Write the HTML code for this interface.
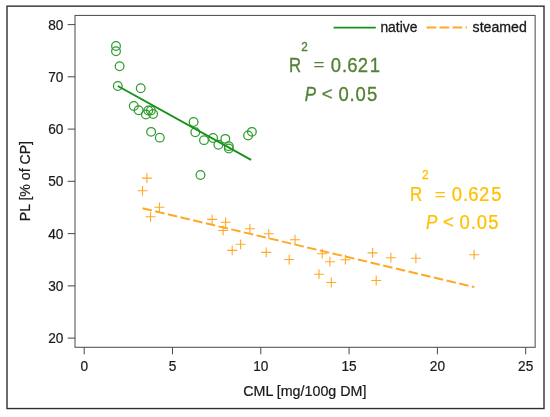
<!DOCTYPE html>
<html lang="en">
<head>
<meta charset="utf-8">
<title>PL vs CML</title>
<style>
html,body{margin:0;padding:0;background:#fff;}
body{width:550px;height:417px;overflow:hidden;}
svg{display:block;}
text{font-family:"Liberation Sans",Arial,Helvetica,sans-serif;}
</style>
</head>
<body>
<svg width="550" height="417" viewBox="0 0 550 417">
<rect x="0" y="0" width="550" height="417" fill="#ffffff"/>
<rect x="7.0" y="6.15" width="537.0" height="402.40000000000003" fill="none" stroke="#303030" stroke-width="1.4"/>
<rect x="75.0" y="15.45" width="460.15" height="331.85" fill="none" stroke="#585858" stroke-width="1.1"/>
<g stroke="#484848" stroke-width="1" fill="none">
<line x1="67.7" y1="338.1" x2="75.0" y2="338.1"/>
<line x1="67.7" y1="285.9" x2="75.0" y2="285.9"/>
<line x1="67.7" y1="233.6" x2="75.0" y2="233.6"/>
<line x1="67.7" y1="181.3" x2="75.0" y2="181.3"/>
<line x1="67.7" y1="129.1" x2="75.0" y2="129.1"/>
<line x1="67.7" y1="76.8" x2="75.0" y2="76.8"/>
<line x1="67.7" y1="24.6" x2="75.0" y2="24.6"/>
<line x1="84.2" y1="347.3" x2="84.2" y2="354.3"/>
<line x1="172.5" y1="347.3" x2="172.5" y2="354.3"/>
<line x1="260.8" y1="347.3" x2="260.8" y2="354.3"/>
<line x1="349.1" y1="347.3" x2="349.1" y2="354.3"/>
<line x1="437.4" y1="347.3" x2="437.4" y2="354.3"/>
<line x1="525.7" y1="347.3" x2="525.7" y2="354.3"/>
</g>
<g font-size="14.2" fill="#1a1a1a" stroke="#1a1a1a" stroke-width="0.22">
<text x="63.4" y="343.2" text-anchor="end" textLength="15.2" lengthAdjust="spacingAndGlyphs">20</text>
<text x="63.4" y="291.0" text-anchor="end" textLength="15.2" lengthAdjust="spacingAndGlyphs">30</text>
<text x="63.4" y="238.7" text-anchor="end" textLength="15.2" lengthAdjust="spacingAndGlyphs">40</text>
<text x="63.4" y="186.4" text-anchor="end" textLength="15.2" lengthAdjust="spacingAndGlyphs">50</text>
<text x="63.4" y="134.2" text-anchor="end" textLength="15.2" lengthAdjust="spacingAndGlyphs">60</text>
<text x="63.4" y="81.9" text-anchor="end" textLength="15.2" lengthAdjust="spacingAndGlyphs">70</text>
<text x="63.4" y="29.6" text-anchor="end" textLength="15.2" lengthAdjust="spacingAndGlyphs">80</text>
<text x="84.2" y="371.2" text-anchor="middle" textLength="7.6" lengthAdjust="spacingAndGlyphs">0</text>
<text x="172.5" y="371.2" text-anchor="middle" textLength="7.6" lengthAdjust="spacingAndGlyphs">5</text>
<text x="260.8" y="371.2" text-anchor="middle" textLength="15.2" lengthAdjust="spacingAndGlyphs">10</text>
<text x="349.1" y="371.2" text-anchor="middle" textLength="15.2" lengthAdjust="spacingAndGlyphs">15</text>
<text x="437.4" y="371.2" text-anchor="middle" textLength="15.2" lengthAdjust="spacingAndGlyphs">20</text>
<text x="525.7" y="371.2" text-anchor="middle" textLength="15.2" lengthAdjust="spacingAndGlyphs">25</text>
<text x="304.8" y="395.7" text-anchor="middle" font-size="14.28">CML [mg/100g DM]</text>
<text transform="translate(30.3 181.1) rotate(-90)" text-anchor="middle" font-size="14.1">PL [% of CP]</text>
</g>
<g fill="none" stroke="#2e9c2e" stroke-width="1.25">
<circle cx="116.0" cy="45.95" r="4.35"/>
<circle cx="116.0" cy="51.20" r="4.35"/>
<circle cx="119.6" cy="66.15" r="4.35"/>
<circle cx="117.8" cy="86.05" r="4.35"/>
<circle cx="140.7" cy="88.25" r="4.35"/>
<circle cx="133.8" cy="106.05" r="4.35"/>
<circle cx="138.6" cy="110.15" r="4.35"/>
<circle cx="145.9" cy="114.45" r="4.35"/>
<circle cx="148.3" cy="110.45" r="4.35"/>
<circle cx="150.9" cy="110.45" r="4.35"/>
<circle cx="153.1" cy="114.05" r="4.35"/>
<circle cx="151.1" cy="131.85" r="4.35"/>
<circle cx="159.8" cy="137.65" r="4.35"/>
<circle cx="193.6" cy="122.05" r="4.35"/>
<circle cx="195.3" cy="132.15" r="4.35"/>
<circle cx="204.0" cy="140.15" r="4.35"/>
<circle cx="213.1" cy="137.95" r="4.35"/>
<circle cx="218.4" cy="144.75" r="4.35"/>
<circle cx="225.3" cy="138.85" r="4.35"/>
<circle cx="228.8" cy="146.15" r="4.35"/>
<circle cx="228.8" cy="148.55" r="4.35"/>
<circle cx="200.5" cy="175.05" r="4.35"/>
<circle cx="248.1" cy="135.45" r="4.35"/>
<circle cx="251.9" cy="131.85" r="4.35"/>
</g>
<g fill="none" stroke="#ffa826" stroke-width="1.1">
<path d="M141.9 178.1h10M146.9 173.2v9.8M137.5 190.8h10M142.5 185.9v9.8M154.4 207.3h10M159.4 202.4v9.8M145.5 216.8h10M150.5 211.9v9.8M207.1 219.4h10M212.1 214.5v9.8M220.6 222.3h10M225.6 217.4v9.8M218.1 230.5h10M223.1 225.6v9.8M244.9 228.8h10M249.9 223.9v9.8M263.8 233.8h10M268.8 228.9v9.8M290.0 239.7h10M295.0 234.8v9.8M235.6 244.3h10M240.6 239.4v9.8M227.2 250.4h10M232.2 245.5v9.8M261.2 252.4h10M266.2 247.5v9.8M284.2 259.5h10M289.2 254.6v9.8M314.0 274.2h10M319.0 269.3v9.8M317.2 253.7h10M322.2 248.8v9.8M324.9 261.7h10M329.9 256.8v9.8M340.4 259.7h10M345.4 254.8v9.8M326.3 282.5h10M331.3 277.6v9.8M367.6 252.9h10M372.6 248.0v9.8M385.9 257.7h10M390.9 252.8v9.8M371.2 280.5h10M376.2 275.6v9.8M410.9 258.3h10M415.9 253.4v9.8M469.1 254.7h10M474.1 249.8v9.8"/>
</g>
<line x1="117.8" y1="86.0" x2="251.1" y2="159.9" stroke="#14921a" stroke-width="1.9"/>
<line x1="142.5" y1="208.3" x2="474.3" y2="287.1" stroke="#ffa826" stroke-width="2" stroke-dasharray="9.55 3.47"/>
<line x1="333.6" y1="27.6" x2="375.8" y2="27.6" stroke="#14921a" stroke-width="1.7"/>
<line x1="426.6" y1="27.5" x2="467" y2="27.5" stroke="#ffa826" stroke-width="1.9" stroke-dasharray="9.6 3.4"/>
<g font-size="14.15" fill="#1a1a1a" stroke="#1a1a1a" stroke-width="0.3">
<text x="380.4" y="32.1" font-size="13.85">native</text>
<text x="472.6" y="31.9">steamed</text>
</g>
<g fill="#548235" stroke="#548235" stroke-linejoin="round">
<text transform="translate(288.90 71.60) scale(0.849 1)" font-size="19.75" stroke-width="0.36">R</text>
<text transform="translate(301.19 50.75) scale(0.931 1)" font-size="12.6" stroke-width="0.36">2</text>
<text transform="translate(313.50 70.35) scale(1.161 1)" font-size="16.2" stroke-width="0.08">=</text>
<text transform="translate(0 71.60) scale(0.875 1)" x="377.88 390.83 396.75 408.98 422.65" font-size="21.1" stroke-width="0.36">0.621</text>
<text transform="translate(304.77 100.50) scale(0.855 1)" font-size="19.75" font-style="italic" stroke-width="0.36">P</text>
<text transform="translate(321.72 99.80) scale(1.031 1)" font-size="18.0" stroke-width="0.3">&lt;</text>
<text transform="translate(0 100.50) scale(0.875 1)" x="386.85 399.51 406.33 419.48" font-size="21.1" stroke-width="0.36">0.05</text>
</g>
<g fill="#ffc000" stroke="#ffc000" stroke-linejoin="round">
<text transform="translate(410.02 200.60) scale(0.860 1)" font-size="19.75" stroke-width="0.24">R</text>
<text transform="translate(421.99 179.45) scale(0.931 1)" font-size="12.6" stroke-width="0.36">2</text>
<text transform="translate(434.70 199.95) scale(1.161 1)" font-size="16.2" stroke-width="0.08">=</text>
<text transform="translate(0 200.60) scale(0.875 1)" x="516.32 529.27 535.20 547.42 561.35" font-size="21.1" stroke-width="0.24">0.625</text>
<text transform="translate(425.91 229.05) scale(0.865 1)" font-size="19.75" font-style="italic" stroke-width="0.24">P</text>
<text transform="translate(442.92 228.35) scale(1.031 1)" font-size="18.0" stroke-width="0.3">&lt;</text>
<text transform="translate(0 229.05) scale(0.875 1)" x="525.29 537.96 544.78 557.92" font-size="21.1" stroke-width="0.24">0.05</text>
</g>
</svg>
</body>
</html>
